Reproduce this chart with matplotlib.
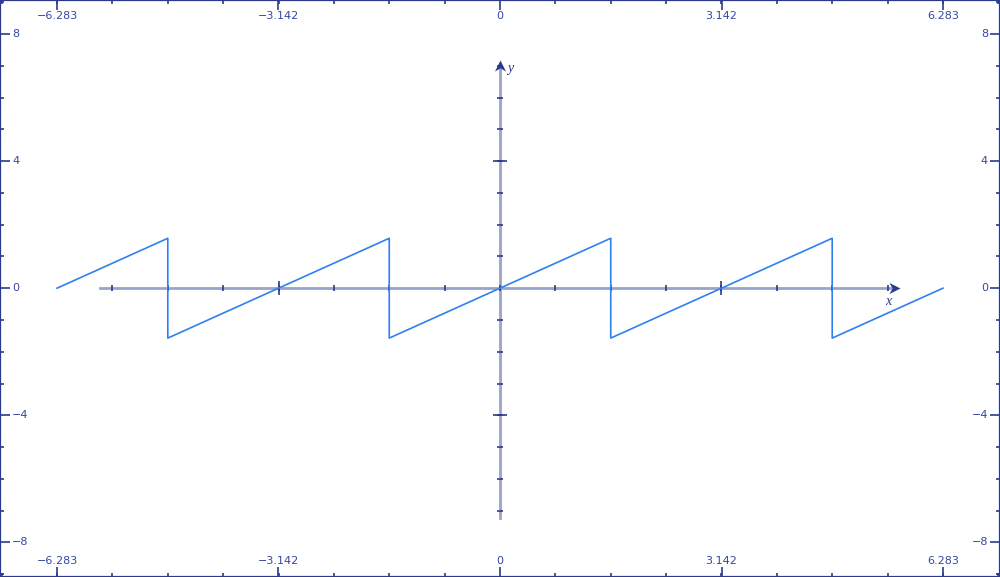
import numpy as np
import matplotlib
matplotlib.use('Agg')
import matplotlib.pyplot as plt
from matplotlib.ticker import MultipleLocator
from matplotlib.transforms import blended_transform_factory

# sawtooth y = arctan(tan x), vertices incl. the vertical jumps
curve_x = [-6.283, -4.712, -4.712, -1.571, -1.571, 1.571, 1.571, 4.712, 4.712, 6.283]
curve_y = [0.0, 1.571, -1.571, 1.571, -1.571, 1.571, -1.571, 1.571, -1.571, 0.0]

xtick_vals = [-6.283, -3.142, 0, 3.142, 6.283]
xtick_labels = ['\u22126.283', '\u22123.142', '0', '3.142', '6.283']
ytick_vals = [-8, -4, 0, 4, 8]
ytick_labels = ['\u22128', '\u22124', '0', '4', '8']

navy = '#2b3a8c'
label_col = '#3546a6'
axis_gray = '#9aa4c9'
curve_col = '#2f80f0'

fig = plt.figure(figsize=(10, 5.77), dpi=100)
ax = fig.add_axes([0, 0, 1, 1])
ax.set_xlim(-7.092, 7.092)
ax.set_ylim(-9.09, 9.07)

for s in ax.spines.values():
    s.set_color(navy)
    s.set_linewidth(1.6)

ax.set_xticks(xtick_vals)
ax.set_yticks(ytick_vals)
ax.xaxis.set_minor_locator(MultipleLocator(np.pi / 4))
ax.yaxis.set_minor_locator(MultipleLocator(1))
ax.tick_params(which='both', direction='in', colors=navy, width=1.2,
               top=True, bottom=True, left=True, right=True,
               labelbottom=False, labelleft=False)
ax.tick_params(which='major', length=7)
ax.tick_params(which='minor', length=3)

# frame labels, drawn inside the frame
tx = blended_transform_factory(ax.transData, ax.transAxes)
ty = blended_transform_factory(ax.transAxes, ax.transData)
for v, lab in zip(xtick_vals, xtick_labels):
    ax.text(v, 0.972, lab, transform=tx, ha='center', va='center', fontsize=8, color=label_col)
    ax.text(v, 0.028, lab, transform=tx, ha='center', va='center', fontsize=8, color=label_col)
for v, lab in zip(ytick_vals, ytick_labels):
    ax.text(0.012, v, lab, transform=ty, ha='left', va='center', fontsize=8, color=label_col)
    ax.text(0.988, v, lab, transform=ty, ha='right', va='center', fontsize=8, color=label_col)

# central axes
ax.plot([-5.67, 5.55], [0, 0], color=axis_gray, lw=2, zorder=2)
ax.plot([0, 0], [-7.24, 6.95], color=axis_gray, lw=2, zorder=2)
arrow_x = [(0, 0), (-1, 0.5), (-0.7, 0), (-1, -0.5), (0, 0)]
arrow_y = [(0, 0), (-0.5, -1), (0, -0.7), (0.5, -1), (0, 0)]
ax.plot([5.67], [0], ls='none', marker=arrow_x, ms=16, color=navy, mew=0, zorder=3)
ax.plot([0], [7.18], ls='none', marker=arrow_y, ms=16, color=navy, mew=0, zorder=3)

axis_xt = np.arange(-7, 8) * np.pi / 4
axis_xt_major = [-np.pi, np.pi]
axis_yt = [v for v in range(-7, 8) if v != 0]
axis_yt_major = [-4, 4]
ax.plot(axis_xt, np.zeros(len(axis_xt)), ls='none', marker='|', ms=5, mew=1.2, color=navy, zorder=3)
ax.plot(axis_xt_major, [0, 0], ls='none', marker='|', ms=10, mew=1.2, color=navy, zorder=3)
ax.plot(np.zeros(len(axis_yt)), axis_yt, ls='none', marker='_', ms=5, mew=1.2, color=navy, zorder=3)
ax.plot([0, 0], axis_yt_major, ls='none', marker='_', ms=10, mew=1.2, color=navy, zorder=3)

ax.text(5.5, -0.41, 'x', fontsize=10, style='italic', family='Liberation Serif',
        color=navy, ha='center', va='center')
ax.text(0.14, 6.9, 'y', fontsize=10, style='italic', family='Liberation Serif',
        color=navy, ha='center', va='center')

ax.plot(curve_x, curve_y, color=curve_col, lw=1.2, zorder=4)

fig.savefig('out.png', dpi=100)
